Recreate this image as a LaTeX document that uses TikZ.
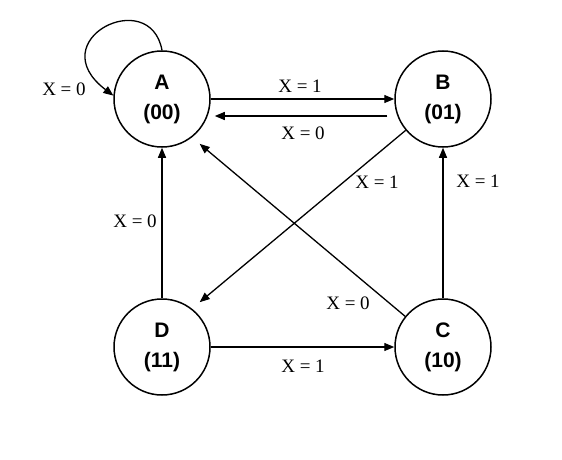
\documentclass[tikz,border=0pt]{standalone}
\usepackage{fontspec}
\setmainfont{Liberation Serif}
\newfontfamily\statefont{Liberation Sans}
\usetikzlibrary{arrows.meta,calc}
\begin{document}
\begin{tikzpicture}[x=1pt,y=-1pt,
  state/.style={circle,draw,line width=1.5pt,minimum size=96pt,inner sep=0pt,
    align=center,font=\statefont\bfseries\fontsize{21}{30}\selectfont},
  arr/.style={line width=1.3pt,-{Triangle[length=10pt,width=8pt]}},
  lbl/.style={font=\fontsize{19}{22}\selectfont,inner sep=1pt}]
\useasboundingbox[fill=white] (0,0) rectangle (562,460);
\node[state] (A) at (162,99) {A\\(00)};
\node[state] (B) at (443,99) {B\\(01)};
\node[state] (D) at (162,347) {D\\(11)};
\node[state] (C) at (443,347) {C\\(10)};
% self loop on A
\draw[arr] (A.north) .. controls (150,-15) and (40,40) .. (A.176);
\node[lbl] (l0) at (64,89) {X = 0};
% A -> B and B -> A
\draw[arr] (A.east) -- (B.west);
\node[lbl] (l1) at (300,86) {X = 1};
\draw[arr] ([xshift=-7pt,yshift=-17pt]B.west) -- ([xshift=4pt,yshift=-17pt]A.east);
\node[lbl] (l2) at (303,133) {X = 0};
% B -> D
\draw[arr,shorten >=10pt] (B.220) -- (D.52);
\node[lbl] (l3) at (377,182) {X = 1};
% C -> A
\draw[arr,shorten >=10pt] (C.141) -- (A.-52);
\node[lbl] (l4) at (348,303) {X = 0};
% C -> B
\draw[arr] (C.north) -- (B.south);
\node[lbl] (l5) at (478,181) {X = 1};
% D -> A
\draw[arr] (D.north) -- (A.south);
\node[lbl] (l6) at (135,221) {X = 0};
% D -> C
\draw[arr] (D.east) -- (C.west);
\node[lbl] (l7) at (303,366) {X = 1};
\end{tikzpicture}
\end{document}
